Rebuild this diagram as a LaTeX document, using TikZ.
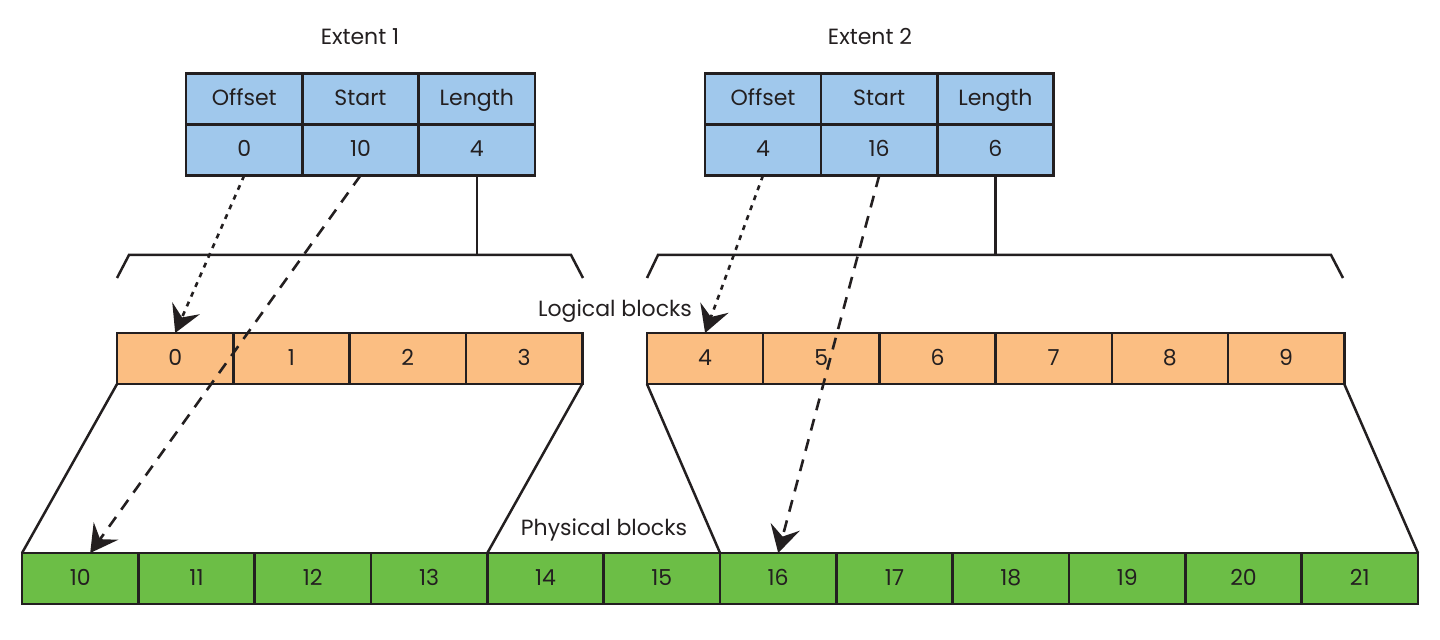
\documentclass[tikz,border=0pt]{standalone}
\usepackage{fontspec}
\setmainfont{Poppins}
\usetikzlibrary{arrows.meta}
\definecolor{extblue}{RGB}{160,200,236}
\definecolor{logorange}{RGB}{251,190,130}
\definecolor{physgreen}{RGB}{108,190,70}
\definecolor{inkgray}{RGB}{35,31,32}

\begin{document}
\begin{tikzpicture}
        [x=0.5pt, y=-0.5pt, font=\fontsize{11}{13}\selectfont, text=inkgray,
        cell/.style={draw=inkgray, line width=1.25pt, outer sep=0pt, minimum width=58.15pt, minimum height=25.5pt, inner sep=0pt, text height=1.55ex, text depth=0.3ex},
        field/.style={cell, fill=extblue},
        logblock/.style={cell, fill=logorange},
        physblock/.style={cell, fill=physgreen},
        edge/.style={draw=inkgray, line width=1.25pt},
        offsetptr/.style={draw=inkgray, line width=1.3pt, dash pattern=on 2.5pt off 2.8pt, -{Stealth[length=13.5pt, width=15pt, inset=5pt]}},
        startptr/.style={draw=inkgray, line width=1.3pt, dash pattern=on 6pt off 4.5pt, -{Stealth[length=13.5pt, width=15pt, inset=5pt]}}]

        \useasboundingbox (0,0) rectangle (1440,640);

        % Extent 1
        \node (ext1) at (360,37) {Extent 1};
        \node[field] (oh1) at (244.2,99) {Offset};
        \node[field] (sh1) at (360.5,99) {Start};
        \node[field] (lh1) at (476.8,99) {Length};
        \node[field] (o1) at (244.2,150) {0};
        \node[field] (s1) at (360.5,150) {10};
        \node[field] (n1) at (476.8,150) {4};

        % Extent 2
        \node (ext2) at (870,37) {Extent 2};
        \node[field] (oh2) at (763,99) {Offset};
        \node[field] (sh2) at (879.2,99) {Start};
        \node[field] (lh2) at (995.4,99) {Length};
        \node[field] (o2) at (763,150) {4};
        \node[field] (s2) at (879.2,150) {16};
        \node[field] (n2) at (995.4,150) {6};

        % Logical blocks
        \node (logical) at (615,311) {Logical blocks};
        \node[logblock] (l0) at (175.2,358.5) {0};
        \node[logblock] (l1) at (291.5,358.5) {1};
        \node[logblock] (l2) at (407.8,358.5) {2};
        \node[logblock] (l3) at (524.1,358.5) {3};
        \node[logblock] (l4) at (705.1,358.5) {4};
        \node[logblock] (l5) at (821.3,358.5) {5};
        \node[logblock] (l6) at (937.5,358.5) {6};
        \node[logblock] (l7) at (1053.7,358.5) {7};
        \node[logblock] (l8) at (1169.9,358.5) {8};
        \node[logblock] (l9) at (1286.1,358.5) {9};

        % Physical blocks
        \node (physical) at (604,530) {Physical blocks};
        \node[physblock] (p10) at (80.2,578.5) {10};
        \node[physblock] (p11) at (196.5,578.5) {11};
        \node[physblock] (p12) at (312.8,578.5) {12};
        \node[physblock] (p13) at (429.2,578.5) {13};
        \node[physblock] (p14) at (545.5,578.5) {14};
        \node[physblock] (p15) at (661.8,578.5) {15};
        \node[physblock] (p16) at (778.2,578.5) {16};
        \node[physblock] (p17) at (894.5,578.5) {17};
        \node[physblock] (p18) at (1010.8,578.5) {18};
        \node[physblock] (p19) at (1127.2,578.5) {19};
        \node[physblock] (p20) at (1243.5,578.5) {20};
        \node[physblock] (p21) at (1359.8,578.5) {21};

        % length brackets
        \draw[edge] (n1.south) -- (n1.south |- 0,255);
        \draw[edge] (117,278) -- (129,255) -- (571,255) -- (583,278);
        \draw[edge] (n2.south) -- (n2.south |- 0,255);
        \draw[edge] (647,278) -- (658,255) -- (1331,255) -- (1343,278);

        % logical to physical mapping
        \draw[edge] (l0.south west) -- (p10.north west);
        \draw[edge] (l3.south east) -- (p14.north west);
        \draw[edge] (l4.south west) -- (p16.north west);
        \draw[edge] (l9.south east) -- (p21.north east);

        % offset and start pointers
        \draw[offsetptr] (o1.south) -- (l0.north);
        \draw[startptr] (s1.south) -- ([xshift=5pt]p10.north);
        \draw[offsetptr] (o2.south) -- (l4.north);
        \draw[startptr] (s2.south) -- (p16.north);

    \end{tikzpicture}
\end{document}
